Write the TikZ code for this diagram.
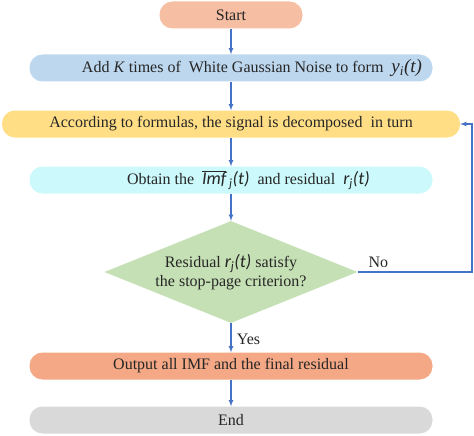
\documentclass[tikz,border=0pt]{standalone}
\usepackage{fontspec}
\setmainfont{Liberation Serif}
\newfontfamily\formfont{Carlito}
\usepackage{tikz}
\usetikzlibrary{calc,positioning,arrows,shapes}

\definecolor{arrblue}{HTML}{4472C4}
\definecolor{startcol}{HTML}{F6BEA3}
\definecolor{addcol}{HTML}{BDD7EE}
\definecolor{turncol}{HTML}{FFDE85}
\definecolor{imfcol}{HTML}{CCF9FB}
\definecolor{deccol}{HTML}{C5E0B4}
\definecolor{outcol}{HTML}{F4A885}
\definecolor{endcol}{HTML}{D9D9D9}

\newcommand{\fvar}[2]{{\formfont\itshape\fontsize{18}{18}\selectfont #1\textsubscript{#2}(t)}}

\begin{document}
\begin{tikzpicture}[x=1pt,y=-1pt,
  blk/.style={rounded corners=13pt,minimum height=27pt,inner sep=0pt,font=\fontsize{16}{18}\selectfont,text=black!85},
  dec/.style={diamond,aspect=2.5,inner sep=0pt,minimum width=253pt,minimum height=102pt,fill=deccol,align=center,font=\fontsize{16}{19}\selectfont,text=black!85},
  lbl/.style={text=black!85,font=\fontsize{16}{18}\selectfont},
  flow/.style={-latex,arrblue,line width=1.1pt}]
  \useasboundingbox (0,0) rectangle (474,436);

  \node[blk,fill=startcol,minimum width=143pt] (start) at (231,15) {Start};
  \node[blk,fill=addcol,minimum width=403pt] (add) at (231,68) {\hspace*{42pt}Add \textit{K} times of \ White Gaussian Noise to form \ {\itshape\fontsize{19}{19}\selectfont y\textsubscript{i}(t)}};
  \node[blk,fill=turncol,minimum width=458pt] (turn) at (231,124) {According to formulas, the signal is decomposed \ in turn};
  \node[blk,fill=imfcol,minimum width=403pt] (imf) at (231,180) {\hspace*{35pt}Obtain the \ $\overline{\mbox{\formfont\itshape\fontsize{18}{18}\selectfont Imf}}$\,{\formfont\itshape\fontsize{18}{18}\selectfont\textsubscript{j}(t)} \ and residual \ \fvar{r}{j}};
  \node[dec] (check) at (231,272) {Residual \fvar{r}{j} satisfy\\the stop-page criterion?};
  \node[blk,fill=outcol,minimum width=403pt] (out) at (231,366) {Output all IMF and the final residual};
  \node[blk,fill=endcol,minimum width=403pt] (end) at (231,420) {End};

  \coordinate (back) at (472,272);

  \draw[flow] (start) -- (add);
  \draw[flow] (add) -- (turn);
  \draw[flow] (turn) -- (imf);
  \draw[flow] (imf) -- (check);
  \draw[flow] (check) -- node[right,lbl,xshift=2pt,yshift=-2pt]{Yes} (out);
  \draw[flow] (out) -- (end);
  \draw[flow] (check.east) -- node[above,pos=0.18,lbl]{No} (back) |- (turn.east);
\end{tikzpicture}
\end{document}
